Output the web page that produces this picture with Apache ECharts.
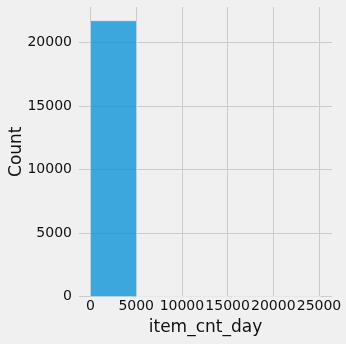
<!DOCTYPE html>
<html>
<head>
<meta charset="utf-8">
<script src="https://cdn.jsdelivr.net/npm/echarts@6/dist/echarts.min.js"></script>
<style>
html,body{margin:0;padding:0;background:#f0f0f0;}
#c{width:346px;height:344px;}
</style>
</head>
<body>
<div id="c"></div>
<script>
// Histogram bins (item_cnt_day) and counts
const binEdges = [0, 5033, 10066, 15099, 20132, 25165];
const binCounts = [21720, 0, 0, 0, 1];
const xTicks = [0, 5000, 10000, 15000, 20000, 25000];
const yTicks = [0, 5000, 10000, 15000, 20000];
const xLabel = 'item_cnt_day';
const yLabel = 'Count';

const dataMin = binEdges[0], dataMax = binEdges[binEdges.length - 1];
const span = dataMax - dataMin;
const xMin = dataMin - 0.05 * span, xMax = dataMax + 0.05 * span;
const yMax = Math.max.apply(null, binCounts) * 1.05;

const histData = binCounts.map((c, i) => [binEdges[i], binEdges[i + 1], c]);

const font = 'DejaVu Sans';
const chart = echarts.init(document.getElementById('c'), null, {renderer: 'canvas'});
chart.setOption({
  backgroundColor: '#f0f0f0',
  animation: false,
  grid: {left: 79, right: 14, top: 7, bottom: 47.5, containLabel: false, outerBoundsMode: 'none'},
  xAxis: {
    type: 'value', min: xMin, max: xMax,
    name: xLabel, nameLocation: 'middle', nameGap: 23, nameMoveOverlap: false,
    nameTextStyle: {fontFamily: font, fontSize: 17, color: '#111'},
    axisLine: {show: false}, axisTick: {show: false, customValues: xTicks},
    axisLabel: {customValues: xTicks, formatter: v => String(v), hideOverlap: false,
      fontFamily: font, fontSize: 14, color: '#111', margin: 3},
    splitLine: {show: true, lineStyle: {color: '#cbcbcb', width: 1}}
  },
  yAxis: {
    type: 'value', min: 0, max: yMax,
    name: yLabel, nameLocation: 'middle', nameGap: 54, nameMoveOverlap: false,
    nameTextStyle: {fontFamily: font, fontSize: 17, color: '#111'},
    axisLine: {show: false}, axisTick: {show: false, customValues: yTicks},
    axisLabel: {customValues: yTicks, formatter: v => String(v), hideOverlap: false,
      fontFamily: font, fontSize: 14, color: '#111', margin: 7},
    splitLine: {show: true, lineStyle: {color: '#cbcbcb', width: 1}}
  },
  series: [{
    type: 'custom',
    data: histData,
    encode: {x: [0, 1], y: 2},
    renderItem: function (params, api) {
      const p0 = api.coord([api.value(0), api.value(2)]);
      const p1 = api.coord([api.value(1), 0]);
      return {
        type: 'rect',
        shape: {x: p0[0], y: p0[1], width: p1[0] - p0[0], height: p1[1] - p0[1]},
        style: {fill: 'rgba(0,143,213,0.75)', stroke: '#f0f0f0', lineWidth: 0.5}
      };
    }
  }]
});
</script>
</body>
</html>
